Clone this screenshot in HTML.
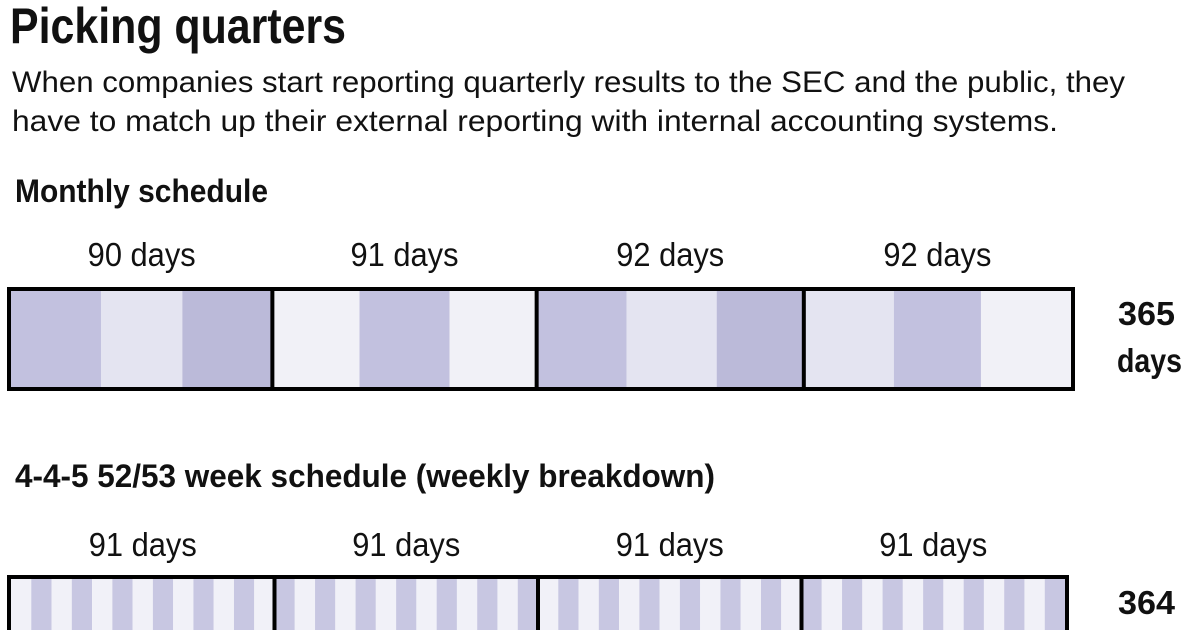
<!DOCTYPE html>
<html><head><meta charset="utf-8">
<style>
html,body{margin:0;padding:0;background:#fff;overflow:hidden;width:1200px;height:630px;}
svg{display:block;overflow:hidden;font-family:"Liberation Sans Narrow","Liberation Sans",sans-serif;}
</style></head>
<body>
<svg id="chart" width="1200" height="630" viewBox="0 0 1200 630" xmlns="http://www.w3.org/2000/svg">
<text x="10" y="43" font-size="50" font-weight="bold" textLength="336" lengthAdjust="spacingAndGlyphs" fill="#111">Picking quarters</text>
<text x="12" y="92" font-size="30" textLength="1113" lengthAdjust="spacingAndGlyphs" fill="#111">When companies start reporting quarterly results to the SEC and the public, they</text>
<text x="12" y="131" font-size="30" textLength="1046" lengthAdjust="spacingAndGlyphs" fill="#111">have to match up their external reporting with internal accounting systems.</text>
<text x="15" y="202" font-size="32" font-weight="bold" textLength="253" lengthAdjust="spacingAndGlyphs" fill="#111">Monthly schedule</text>
<text x="15" y="487" font-size="32" font-weight="bold" textLength="700" lengthAdjust="spacingAndGlyphs" fill="#111">4-4-5 52/53 week schedule (weekly breakdown)</text>
<g id="monthly"></g>
<g id="weekly"></g>
<text x="1118" y="325" font-size="33" font-weight="bold" textLength="57" lengthAdjust="spacingAndGlyphs" fill="#111">365</text>
<text x="1117" y="372" font-size="33" font-weight="bold" textLength="65" lengthAdjust="spacingAndGlyphs" fill="#111">days</text>
<text x="1118" y="614" font-size="33" font-weight="bold" textLength="57" lengthAdjust="spacingAndGlyphs" fill="#111">364</text>
</svg>
<script>
const monthDays = [31,28,31,30,31,30,31,31,30,31,30,31];
const monthColors = ["#c2c1df","#e4e4f1","#bbbad9","#f1f1f7","#c2c1df","#f1f1f7","#c2c1df","#e4e4f1","#bbbad9","#e4e4f1","#c2c1df","#f1f1f7"];
const monthlyQuarterDays = [90,91,92,92];
const weeklyQuarterWeeks = [13,13,13,13];
const weekColors = ["#f1f1f8","#c8c7e2"];
const monthlyTotalDays = 365;
const weeklyTotalDays = 364;

const NS = "http://www.w3.org/2000/svg";
function mk(tag, attrs, parent){const e=document.createElementNS(NS,tag);for(const k in attrs)e.setAttribute(k,attrs[k]);parent.appendChild(e);return e;}

(function(){
  const g=document.getElementById('monthly');
  const x0=11, x1=1071, y0=291, y1=387;
  const sx=d=>x0+(x1-x0)*d/monthlyTotalDays;
  let acc=0;
  monthDays.forEach((d,i)=>{
    const r=mk('rect',{x:sx(acc),y:y0,width:sx(acc+d)-sx(acc),height:y1-y0,fill:monthColors[i]},g);
    
    
    acc+=d;
  });
  acc=0;
  monthlyQuarterDays.forEach((d,i)=>{
    const cx=(sx(acc)+sx(acc+d))/2;
    const t=mk('text',{x:cx,y:266,'font-size':33,'text-anchor':'middle',textLength:108,lengthAdjust:'spacingAndGlyphs',fill:'#111'},g);
    t.textContent=d+' days';
    
    
    acc+=d;
    if(i<monthlyQuarterDays.length-1){
      const l=mk('line',{x1:sx(acc),x2:sx(acc),y1:y0,y2:y1,stroke:'#000','stroke-width':4},g);
      
      
    }
  });
  const b=mk('rect',{x:x0-2,y:y0-2,width:x1-x0+4,height:y1-y0+4,fill:'none',stroke:'#000','stroke-width':4},g);
  
  
})();

(function(){
  const g=document.getElementById('weekly');
  const x0=11, x1=1065, y0=579, y1=634;
  const totalWeeks=weeklyQuarterWeeks.reduce((a,b)=>a+b,0);
  const sw=w=>x0+(x1-x0)*w/totalWeeks;
  for(let w=0;w<totalWeeks;w++){
    const r=mk('rect',{x:sw(w),y:y0,width:sw(w+1)-sw(w),height:y1-y0,fill:weekColors[w%2]},g);
    
    
  }
  let acc=0;
  weeklyQuarterWeeks.forEach((n,i)=>{
    const cx=(sw(acc)+sw(acc+n))/2;
    const t=mk('text',{x:cx,y:556,'font-size':33,'text-anchor':'middle',textLength:108,lengthAdjust:'spacingAndGlyphs',fill:'#111'},g);
    t.textContent=(n*7)+' days';
    
    
    acc+=n;
    if(i<weeklyQuarterWeeks.length-1){
      const l=mk('line',{x1:sw(acc),x2:sw(acc),y1:y0,y2:y1,stroke:'#000','stroke-width':4},g);
      
      
    }
  });
  const b=mk('rect',{x:x0-2,y:y0-2,width:x1-x0+4,height:y1-y0+4,fill:'none',stroke:'#000','stroke-width':4},g);
  
  
})();
</script>
</body></html>
